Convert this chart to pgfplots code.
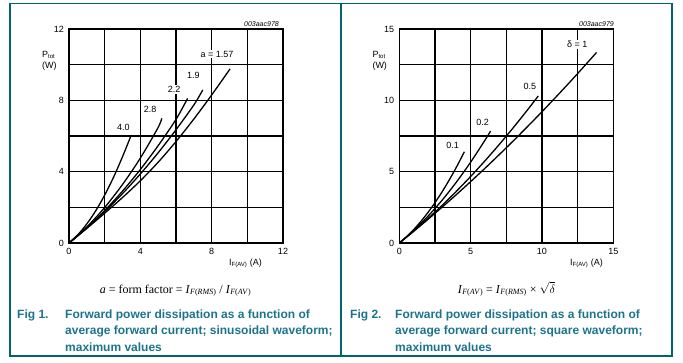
\documentclass[border=0pt]{standalone}
\usepackage{fontspec}
\setmainfont{Liberation Sans}
\newfontfamily\serif{Liberation Serif}
\usepackage{pgfplots}
\pgfplotsset{compat=1.18}
\definecolor{capcol}{RGB}{28,116,140}
\definecolor{boxcol}{RGB}{0,100,110}
\tikzset{curvelab/.style={fill=white,inner sep=1pt,font=\fontsize{9}{10}\selectfont}}
\pgfplotsset{dgrid/.style={
  width=214pt,height=214pt,scale only axis,anchor=south west,
  grid=major,major grid style={black,line width=1.3pt},
  axis line style={black,line width=1.3pt},
  tick style={draw=none},major tick length=0pt,
  /pgf/number format/assume math mode=true,
  ticklabel style={font=\fontsize{9}{10}\selectfont,inner sep=0pt},
  xticklabel style={yshift=-5pt},
  yticklabel style={xshift=-5pt},
  cycle list={{black,mark=none}},
  every axis plot/.append style={line width=1.3pt,smooth},
}}
\begin{document}
\begin{tikzpicture}
\useasboundingbox (0pt,0pt) rectangle (683pt,362pt);
% frame
\draw[boxcol,line width=1.2pt] (10pt,358.5pt) rectangle (672pt,6pt);
\draw[boxcol,line width=1.2pt] (341pt,358.5pt) -- (341pt,6pt);
% left axis
\begin{axis}[dgrid,at={(69pt,119pt)},
  xmin=0,xmax=12,ymin=0,ymax=12,
  xtick={0,2,4,6,8,10,12},xticklabels={0,,4,,8,,12},
  ytick={0,2,4,6,8,10,12},yticklabels={0,,4,,8,,12}]
\addplot coordinates {(0,0) (0.5,0.468) (1,1.071) (1.5,1.809) (2,2.683) (2.5,3.692) (3,4.836) (3.46,5.98)};
\addplot coordinates {(0,0) (1,0.90) (2,1.99) (3,3.28) (4,4.76) (5,6.48) (5.2,6.99)};
\addplot coordinates {(0,0) (1,0.85) (2,1.82) (3,2.91) (4,4.12) (5,5.46) (6,6.93) (6.65,8.11)};
\addplot coordinates {(0,0) (1,0.84) (2,1.76) (3,2.77) (4,3.87) (5,5.06) (6,6.35) (7,7.74) (7.5,8.58)};
\addplot coordinates {(0,0) (1,0.82) (2,1.67) (3,2.55) (4,3.49) (5,4.53) (6,5.69) (7,6.95) (8,8.30) (9.03,9.76)};
\node[curvelab] at (axis cs:3.05,6.5) {4.0};
\node[curvelab] at (axis cs:4.55,7.47) {2.8};
\node[curvelab] at (axis cs:5.9,8.6) {2.2};
\node[curvelab] at (axis cs:6.98,9.38) {1.9};
\node[curvelab] at (axis cs:8.3,10.6) {a = 1.57};
\end{axis}
% right axis
\begin{axis}[dgrid,at={(399.3pt,119pt)},
  xmin=0,xmax=15,ymin=0,ymax=15,
  xtick={0,2.5,5,7.5,10,12.5,15},xticklabels={0,,5,,10,,15},
  ytick={0,2.5,5,7.5,10,12.5,15},yticklabels={0,,5,,10,,15}]
\addplot coordinates {(0,0) (0.5,0.433) (1,0.932) (1.5,1.497) (2,2.128) (2.5,2.825) (3,3.588) (3.5,4.417) (4,5.312) (4.56,6.393)};
\addplot coordinates {(0,0) (1,0.867) (2,1.866) (3,2.999) (4,4.266) (5,5.665) (6,7.198) (6.40,7.848)};
\addplot coordinates {(0,0) (1,0.827) (2,1.706) (3,2.639) (4,3.624) (5,4.663) (6,5.754) (7,6.899) (8,8.096) (9,9.347) (9.74,10.306)};
\addplot coordinates {(0,0) (1,0.812) (2,1.648) (4,3.392) (6,5.232) (8,7.168) (10,9.2) (12,11.328) (13.83,13.36)};
\node[curvelab] at (axis cs:3.74,6.82) {0.1};
\node[curvelab] at (axis cs:5.84,8.43) {0.2};
\node[curvelab] at (axis cs:9.16,11.0) {0.5};
\node[curvelab] at (axis cs:12.48,13.9) {δ = 1};
\end{axis}
% axis labels
\foreach \dx in {0pt,330.3pt}{
  \node[anchor=base west,inner sep=0pt,font=\fontsize{9}{10}\selectfont] at ([xshift=\dx]42pt,304pt) {P\textsubscript{tot}};
  \node[anchor=base west,inner sep=0pt,font=\fontsize{9}{10}\selectfont] at ([xshift=\dx]42pt,293pt) {(W)};
}
\node[anchor=base west,inner sep=0pt,font=\fontsize{9}{10}\selectfont] at (229pt,97pt) {I\textsubscript{F(AV)} (A)};
\node[anchor=base west,inner sep=0pt,font=\fontsize{9}{10}\selectfont] at (570pt,97pt) {I\textsubscript{F(AV)} (A)};
\node[anchor=base east,inner sep=0pt,font=\fontsize{7}{8}\selectfont\itshape] at (279pt,335pt) {003aac978};
\node[anchor=base east,inner sep=0pt,font=\fontsize{7}{8}\selectfont\itshape] at (614pt,335pt) {003aac979};
% formulas
\node[anchor=base,inner sep=0pt,font=\serif\fontsize{12}{13}\selectfont] at (175.5pt,69pt)
  {\textit{a} = form factor = \textit{I}\textsubscript{\textit{F}(\textit{RMS})} / \textit{I}\textsubscript{\textit{F}(\textit{AV})}};
\node[anchor=base,inner sep=0pt,font=\serif\fontsize{12}{13}\selectfont] at (506.5pt,69pt)
  {\textit{I}\textsubscript{\textit{F}(\textit{AV})} = \textit{I}\textsubscript{\textit{F}(\textit{RMS})} × $\sqrt{\delta}$};
% captions
\begin{scope}[every node/.style={anchor=base west,inner sep=0pt,text=capcol,font=\bfseries\fontsize{12}{14}\selectfont}]
\node at (17pt,44pt) {Fig 1.};
\node at (65pt,44pt) {Forward power dissipation as a function of};
\node at (65pt,27.5pt) {average forward current; sinusoidal waveform;};
\node at (65pt,11pt) {maximum values};
\node at (350pt,44pt) {Fig 2.};
\node at (395pt,44pt) {Forward power dissipation as a function of};
\node at (395pt,27.5pt) {average forward current; square waveform;};
\node at (395pt,11pt) {maximum values};
\end{scope}
\end{tikzpicture}
\end{document}
